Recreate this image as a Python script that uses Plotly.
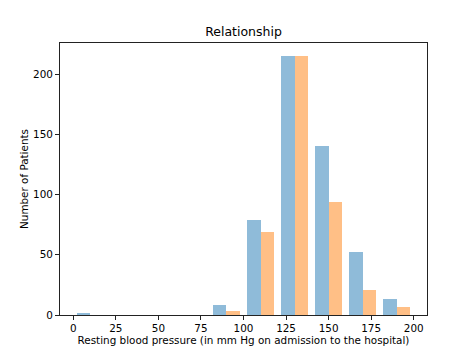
import plotly.graph_objects as go

bin_edges = [0, 20, 40, 60, 80, 100, 120, 140, 160, 180, 200]
blue_counts = [1, 0, 0, 0, 8, 79, 215, 140, 52, 13]
orange_counts = [0, 0, 0, 0, 3, 69, 215, 94, 21, 7]
x_ticks = [0, 25, 50, 75, 100, 125, 150, 175, 200]
y_ticks = [0, 50, 100, 150, 200]

bw = bin_edges[1] - bin_edges[0]
sub_w = 0.8 * bw / 2
lefts = bin_edges[:-1]
blue_x = [l + 0.1 * bw + sub_w / 2 for l in lefts]
orange_x = [l + 0.1 * bw + sub_w * 1.5 for l in lefts]

fig = go.Figure()
fig.add_trace(go.Bar(x=blue_x, y=blue_counts, width=sub_w, marker=dict(color="#1f77b4", opacity=0.5, line=dict(width=0)), showlegend=False))
fig.add_trace(go.Bar(x=orange_x, y=orange_counts, width=sub_w, marker=dict(color="#ff7f0e", opacity=0.5, line=dict(width=0)), showlegend=False))

W, H = 466, 347
font = dict(family="DejaVu Sans", size=10.4, color="#000000")
fig.update_layout(
    width=W, height=H,
    margin=dict(l=52, r=W - 419, t=35, b=H - 307.5),
    paper_bgcolor="white", plot_bgcolor="white",
    barmode="overlay", bargap=0,
    font=font,
    title=dict(text="Relationship", x=(243.5 - 8) / W, xanchor="center", y=1 - 24 / H, yanchor="middle",
               font=dict(family="DejaVu Sans", size=12.5, color="#000000")),
    xaxis=dict(range=[-7.8, 207.8], tickvals=x_ticks, ticks="outside", ticklen=4, tickwidth=1,
               tickcolor="#222", showline=True, linecolor="#222", linewidth=1, mirror=True,
               showgrid=False, zeroline=False, automargin=False, tickfont=font,
               title=dict(text="Resting blood pressure (in mm Hg on admission to the hospital)", standoff=2,
                          font=font)),
    yaxis=dict(range=[0, 225.75], tickvals=y_ticks, ticks="outside", ticklen=4, tickwidth=1,
               tickcolor="#222", showline=True, linecolor="#222", linewidth=1, mirror=True,
               showgrid=False, zeroline=False, automargin=False, tickfont=font,
               title=dict(text="Number of Patients", standoff=2, font=font)),
)
fig.write_html("out.html")
